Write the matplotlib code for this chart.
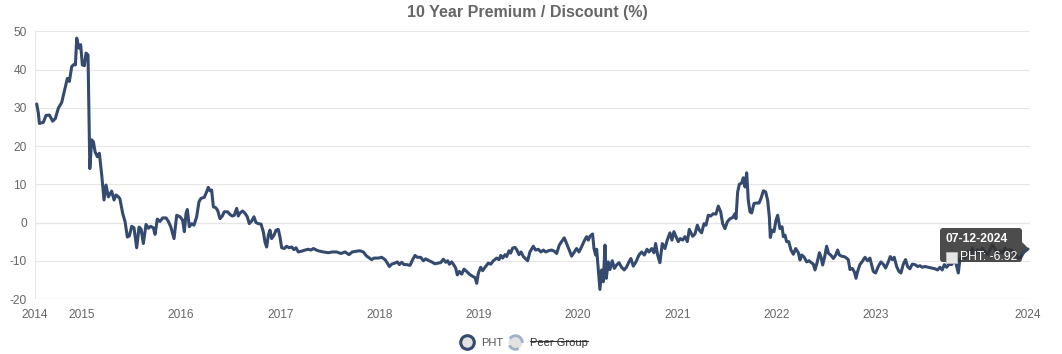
import matplotlib
matplotlib.use('Agg')
import matplotlib.pyplot as plt
from matplotlib.patches import FancyBboxPatch, Circle, Rectangle, Polygon
from matplotlib.lines import Line2D

plt.rcParams['font.family'] = ['Liberation Sans', 'DejaVu Sans']

# ---------------- data ----------------
title = "10 Year Premium / Discount (%)"
series_name = "PHT"
peer_name = "Peer Group"
tooltip_date = "07-12-2024"
tooltip_value = -6.92

years = [
    2014.547, 2014.564, 2014.574, 2014.614, 2014.641, 2014.675, 2014.708, 2014.735, 2014.765, 2014.799,
    2014.832, 2014.856, 2014.876, 2014.900, 2014.926, 2014.937, 2014.950, 2014.973, 2014.990, 2015.007,
    2015.027, 2015.044, 2015.064, 2015.075, 2015.082, 2015.101, 2015.118, 2015.135, 2015.158, 2015.178,
    2015.202, 2015.225, 2015.245, 2015.269, 2015.302, 2015.326, 2015.346, 2015.370, 2015.385, 2015.413,
    2015.437, 2015.460, 2015.480, 2015.504, 2015.527, 2015.554, 2015.578, 2015.598, 2015.621, 2015.648,
    2015.672, 2015.695, 2015.722, 2015.739, 2015.762, 2015.789, 2015.816, 2015.850, 2015.873, 2015.897,
    2015.930, 2015.957, 2015.990, 2016.017, 2016.034, 2016.051, 2016.064, 2016.084, 2016.108, 2016.131,
    2016.158, 2016.181, 2016.201, 2016.235, 2016.258, 2016.275, 2016.292, 2016.309, 2016.326, 2016.349,
    2016.369, 2016.393, 2016.416, 2016.436, 2016.470, 2016.493, 2016.517, 2016.537, 2016.561, 2016.577,
    2016.594, 2016.621, 2016.645, 2016.668, 2016.688, 2016.712, 2016.735, 2016.755, 2016.779, 2016.806,
    2016.829, 2016.846, 2016.863, 2016.880, 2016.896, 2016.913, 2016.937, 2016.957, 2016.980, 2016.997,
    2017.014, 2017.041, 2017.064, 2017.088, 2017.115, 2017.138, 2017.158, 2017.182, 2017.215, 2017.249,
    2017.282, 2017.309, 2017.333, 2017.356, 2017.383, 2017.433, 2017.484, 2017.524, 2017.568, 2017.611,
    2017.652, 2017.692, 2017.725, 2017.769,
    2017.803, 2017.837, 2017.863, 2017.887, 2017.920, 2017.944, 2017.988, 2018.021, 2018.055, 2018.078,
    2018.098, 2018.122, 2018.155, 2018.179, 2018.199, 2018.223, 2018.246, 2018.273, 2018.307, 2018.333,
    2018.357, 2018.380, 2018.414, 2018.441, 2018.464, 2018.491, 2018.525, 2018.558, 2018.592, 2018.615,
    2018.642, 2018.666, 2018.686, 2018.703, 2018.726, 2018.743, 2018.766, 2018.783, 2018.803, 2018.827,
    2018.850, 2018.877, 2018.904, 2018.938, 2018.961, 2018.978, 2018.995, 2019.018, 2019.038, 2019.062,
    2019.095, 2019.119, 2019.146, 2019.179, 2019.203, 2019.220, 2019.240, 2019.263, 2019.280, 2019.304,
    2019.320, 2019.340, 2019.364, 2019.381, 2019.404, 2019.424, 2019.448,
    2019.491, 2019.514, 2019.548, 2019.571, 2019.598, 2019.625, 2019.649, 2019.672, 2019.699, 2019.733,
    2019.759, 2019.783, 2019.810, 2019.833, 2019.860, 2019.884, 2019.907, 2019.934, 2019.961, 2019.984,
    2020.008, 2020.035, 2020.061, 2020.085, 2020.102, 2020.119, 2020.145, 2020.159, 2020.176, 2020.186,
    2020.203, 2020.219, 2020.236, 2020.253, 2020.270, 2020.283, 2020.303, 2020.320, 2020.343, 2020.364,
    2020.387, 2020.411, 2020.437, 2020.464, 2020.488, 2020.511, 2020.531, 2020.555, 2020.582, 2020.612,
    2020.639, 2020.666, 2020.693, 2020.713, 2020.740, 2020.763, 2020.780, 2020.800, 2020.823, 2020.847,
    2020.874, 2020.897, 2020.924, 2020.944, 2020.964, 2020.985, 2021.008, 2021.028, 2021.052, 2021.075,
    2021.099, 2021.119,
    2021.153, 2021.176, 2021.200, 2021.220, 2021.243, 2021.267, 2021.287, 2021.310, 2021.334, 2021.361,
    2021.388, 2021.411, 2021.435, 2021.455, 2021.478, 2021.502, 2021.529, 2021.556, 2021.579, 2021.589,
    2021.606, 2021.623, 2021.646, 2021.663, 2021.680, 2021.697, 2021.713, 2021.730, 2021.747, 2021.771,
    2021.797, 2021.821, 2021.841, 2021.865, 2021.888, 2021.908, 2021.925, 2021.935, 2021.952, 2021.972,
    2021.992, 2022.009, 2022.032, 2022.053, 2022.066, 2022.083, 2022.099, 2022.120, 2022.143, 2022.167,
    2022.190, 2022.217, 2022.234, 2022.251, 2022.274, 2022.301, 2022.324, 2022.348, 2022.368, 2022.385,
    2022.408, 2022.429, 2022.445, 2022.462, 2022.482, 2022.502, 2022.522, 2022.543, 2022.570, 2022.593,
    2022.613, 2022.630, 2022.653, 2022.687, 2022.720, 2022.737, 2022.761, 2022.781, 2022.798,
    2022.814, 2022.837, 2022.861, 2022.888, 2022.915, 2022.938, 2022.972, 2022.995, 2023.022, 2023.049,
    2023.072, 2023.096, 2023.123, 2023.143, 2023.163, 2023.183, 2023.207, 2023.230, 2023.250, 2023.274,
    2023.297, 2023.317, 2023.341, 2023.364, 2023.391, 2023.418, 2023.442, 2023.465, 2023.492, 2023.526,
    2023.559, 2023.593, 2023.620, 2023.643, 2023.666, 2023.687, 2023.710, 2023.734, 2023.760, 2023.784,
    2023.804, 2023.828, 2023.844, 2023.868, 2023.895, 2023.922, 2023.945, 2023.969, 2023.995, 2024.022,
    2024.046, 2024.069, 2024.096, 2024.123, 2024.147, 2024.170, 2024.197, 2024.224, 2024.247, 2024.271,
    2024.298, 2024.325, 2024.348, 2024.372, 2024.398, 2024.432, 2024.459, 2024.482, 2024.506, 2024.530,
]

pht = [
    31.0, 28.6, 25.9, 26.2, 28.0, 28.1, 26.5, 27.2, 29.9, 31.4,
    35.1, 37.7, 36.9, 40.8, 41.4, 41.2, 48.2, 45.6, 46.5, 41.2,
    41.0, 44.3, 43.8, 25.0, 14.1, 21.6, 21.1, 18.5, 17.2, 18.1,
    12.4, 5.9, 9.8, 6.7, 8.2, 5.9, 7.2, 6.7, 6.2, 2.4,
    0.2, -3.8, -3.5, -1.0, -1.4, -6.6, -1.2, -1.7, -5.5, -0.5,
    -1.5, -1.0, -1.4, -3.1, 0.9, 0.3, 1.2, 1.2, 0.3, -1.1,
    -4.2, 1.9, 1.5, 0.6, -2.4, 2.4, 3.4, -1.1, -0.3, -0.7,
    1.5, 5.4, 6.3, 6.6, 8.0, 9.2, 8.3, 8.5, 4.1, 3.9,
    3.2, 1.0, 1.7, 2.8, 2.8, 2.1, 1.7, 1.9, 3.7, 1.7,
    2.5, 3.0, 2.4, 1.5, -0.3, 0.4, 1.5, 0.0, -0.3, -0.4,
    -2.4, -5.1, -6.4, -3.3, -2.0, -4.2, -3.3, -2.0, -1.8, -3.8,
    -6.6, -6.8, -6.2, -6.6, -6.4, -7.1, -6.6, -7.7, -7.5, -7.2,
    -7.0, -7.2, -6.8, -7.1, -7.4, -7.7, -7.9, -7.7, -7.7, -8.1,
    -7.7, -8.4, -7.7, -7.5,
    -7.4, -7.7, -8.6, -9.1, -9.7, -9.3, -9.3, -9.1, -9.7, -10.6,
    -11.5, -10.9, -10.6, -10.3, -11.0, -10.4, -11.0, -11.0, -11.2, -9.7,
    -8.6, -9.1, -9.1, -10.0, -9.5, -9.9, -10.3, -10.8, -10.6, -10.5,
    -9.6, -10.4, -10.0, -10.9, -10.3, -10.9, -11.9, -13.7, -12.8, -13.5,
    -12.2, -12.8, -13.5, -14.1, -14.4, -15.9, -13.2, -11.7, -12.6, -11.7,
    -10.6, -10.9, -10.0, -9.3, -9.7, -8.6, -9.3, -8.4, -8.9, -7.4,
    -8.0, -6.7, -6.5, -7.1, -8.4, -7.7, -8.9,
    -10.0, -7.7, -6.2, -7.2, -7.0, -7.7, -7.2, -7.7, -7.4, -7.2,
    -7.5, -8.1, -5.9, -5.0, -4.0, -5.5, -7.0, -8.8, -7.7, -6.8,
    -7.7, -6.3, -4.8, -3.7, -4.6, -3.6, -3.0, -6.8, -8.5, -7.0,
    -12.4, -17.5, -12.4, -15.5, -5.9, -14.6, -10.3, -12.3, -10.0, -12.0,
    -11.1, -10.5, -11.7, -12.4, -11.6, -10.3, -9.4, -11.4, -10.3, -8.5,
    -7.7, -8.5, -7.0, -7.7, -6.8, -7.9, -5.5, -8.5, -10.5, -5.5,
    -6.8, -4.6, -2.7, -4.6, -2.4, -3.7, -5.0, -4.2, -4.6, -3.7,
    -5.0, -1.8,
    -3.6, -3.0, -0.7, -2.0, -2.7, -0.3, -0.7, 1.9, 1.7, 2.3,
    2.2, 4.3, 2.8, -0.3, -1.6, 0.2, 1.0, 1.3, 2.3, 1.0,
    8.0, 10.0, 10.3, 11.7, 9.3, 13.0, 5.8, 2.8, 2.5, 5.0,
    5.1, 5.1, 6.3, 8.3, 8.0, 5.8, 1.5, -3.9, -2.0, -2.4,
    0.6, 1.9, -1.6, -1.1, -3.7, -3.3, -5.0, -5.0, -7.2, -8.3,
    -6.8, -7.9, -9.8, -8.5, -9.0, -10.3, -10.0, -10.5, -10.9, -12.4,
    -10.3, -7.9, -9.0, -11.1, -9.0, -6.2, -8.1, -8.5, -9.4, -8.5,
    -7.2, -8.5, -8.8, -9.0, -9.7, -12.3, -12.0, -12.9, -14.6,
    -12.8, -11.0, -10.2, -9.1, -10.0, -9.3, -12.8, -13.2, -11.5, -10.3,
    -10.9, -11.9, -10.3, -8.9, -9.7, -9.1, -11.5, -12.8, -13.2, -10.9,
    -9.7, -11.5, -12.1, -10.9, -11.0, -11.5, -11.3, -11.7, -11.5, -11.7,
    -11.9, -12.1, -12.4, -11.7, -12.4, -11.0, -11.7, -10.9, -11.0, -10.2,
    -10.6, -13.2, -9.7, -8.9, -9.3, -7.6, -8.9, -6.7, -8.4, -7.1,
    -8.0, -6.7, -7.6, -8.4, -7.1, -5.8, -6.9, -8.3, -7.4, -8.0,
    -6.7, -7.7, -7.1, -7.4, -8.0, -9.3, -9.1, -8.0, -7.4, -6.92,
]

y_ticks = [-20, -10, 0, 10, 20, 30, 40, 50]
x_tick_pos = [2014.53, 2015, 2016, 2017, 2018, 2019, 2020, 2021, 2022, 2023, 2024.53]
x_tick_labels = ['2014', '2015', '2016', '2017', '2018', '2019', '2020', '2021', '2022', '2023', '2024']

# ---------------- figure ----------------
W, H = 1062, 354
fig = plt.figure(figsize=(W / 100, H / 100), dpi=100)
fig.patch.set_facecolor('white')

ax = fig.add_axes([35 / W, (H - 299) / H, 995 / W, 267.7 / H])
ax.set_facecolor('white')
line_color = '#344a6e'
ax.plot(years, pht, color=line_color, lw=2.2, solid_joinstyle='round',
        solid_capstyle='round', zorder=3)

ax.set_xlim(2014.53, 2024.55)
ax.set_ylim(-20, 50)
ax.set_yticks(y_ticks)
ax.set_yticklabels([str(v) for v in y_ticks])
ax.set_xticks(x_tick_pos)
ax.set_xticklabels(x_tick_labels)
ax.grid(axis='y', color='#e6e6e6', lw=0.8, zorder=0)
ax.grid(axis='x', visible=False)
for s in ax.spines.values():
    s.set_visible(False)
ax.axhline(0, color='#c4c4c4', lw=0.8, zorder=1)
ax.axhline(-20, color='#cccccc', lw=0.8, zorder=1)
ax.axvline(2014.53, color='#e6e6e6', lw=0.8, zorder=1)
ax.tick_params(length=0, labelsize=8.6, labelcolor='#666666')
ax.tick_params(axis='y', pad=6)
ax.tick_params(axis='x', pad=7)

fig.text(527 / W, 1 - 12.5 / H, title, ha='center', va='center',
         fontsize=11.5, fontweight='bold', color='#666666')

# ---------------- overlay (legend + tooltip) in pixel coords ----------------
ov = fig.add_axes([0, 0, 1, 1])
ov.set_xlim(0, W)
ov.set_ylim(H, 0)
ov.axis('off')

# legend
ov.add_patch(Circle((467.5, 342.5), 6.8, facecolor='#e2e2e2', edgecolor=line_color, lw=2.2))
ov.text(481.5, 342.5, series_name, ha='left', va='center', fontsize=8.0, color='#555555')
ov.add_patch(Circle((515.5, 342.5), 6.8, facecolor='#e2e2e2', edgecolor='#9fb0c8', lw=2.0,
                    linestyle=(0, (4, 2.5))))
peer_txt = ov.text(530, 342.5, peer_name, ha='left', va='center', fontsize=8.0, color='#333333')

fig.canvas.draw()
bb = peer_txt.get_window_extent(renderer=fig.canvas.get_renderer())
inv = ov.transData.inverted()
(x0, _), (x1, _) = inv.transform([(bb.x0, bb.y0), (bb.x1, bb.y1)])
ov.add_line(Line2D([x0, x1], [341.3, 341.3], color='#333333', lw=0.8))

# tooltip
ov.add_patch(FancyBboxPatch((940, 228), 82, 34, boxstyle='round,pad=0,rounding_size=3',
                            fc='#333333', ec='none', alpha=0.88, zorder=5))
ov.add_patch(Polygon([(1022, 242), (1022, 253), (1027.5, 247.5)], closed=True,
                     fc='#333333', ec='none', alpha=0.88, zorder=5))
ov.text(946, 238.5, tooltip_date, ha='left', va='center', fontsize=8.7,
        fontweight='bold', color='white', zorder=6)
ov.add_patch(Rectangle((946, 252), 11, 11, fc='#e6e6e6', ec='#bbbbbb', lw=0.6, zorder=6))
ov.text(959.5, 257.5, f"{series_name}: {tooltip_value}", ha='left', va='center', fontsize=8.7,
        color='white', zorder=6)

fig.savefig('out.png', dpi=100, facecolor='white')
